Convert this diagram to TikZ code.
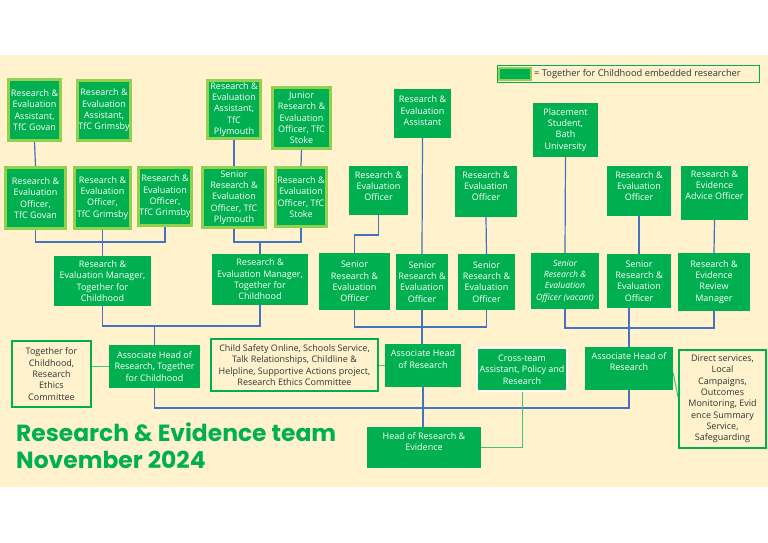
\documentclass[tikz,border=0pt]{standalone}
\usepackage{fontspec}
\setmainfont{Open Sans}
\newfontfamily\titlefont{Poppins}
\usetikzlibrary{backgrounds}
\definecolor{tgreen}{HTML}{00B050}
\definecolor{lgreen}{HTML}{92D050}
\definecolor{cream}{HTML}{FFF2CC}
\definecolor{lblue}{HTML}{4472C4}
\definecolor{dtext}{HTML}{333333}
\tikzset{
  sz/.style 2 args={minimum width=#1,minimum height=#2},
  td/.style 2 args={text height=#1, text depth=#2},
  gbox/.style={fill=tgreen, text=white, align=center, inner sep=1pt,
    font=\fontsize{9}{11.3}\selectfont},
  tfc/.style={gbox, draw=lgreen, line width=3pt},
  wbox/.style={fill=cream, draw=tgreen, line width=2pt, text=dtext, align=center,
    inner sep=1pt, font=\fontsize{9}{11.3}\selectfont},
  xbox/.style={gbox, draw=white, line width=2pt},
  link/.style={draw=lblue, line width=1.2pt},
  glink/.style={draw=tgreen!75!white, line width=1pt},
}
\begin{document}
\begin{tikzpicture}[x=1pt,y=-1pt]
\useasboundingbox (0,0) rectangle (768,543);
% row 1
\node[tfc, sz={52}{61}] (a1) at (34.5,110) {Research \&\\Evaluation\\Assistant,\\TfC Govan};
\node[tfc, sz={51}{60}] (a2) at (104,110.5) {Research \&\\Evaluation\\Assistant,\\TfC Grimsby};
\node[tfc, sz={53}{58}] (a3) at (234,109.5) {Research \&\\Evaluation\\Assistant,\\TfC\\Plymouth};
\node[tfc, sz={58}{61}] (a4) at (301.5,118) {Junior\\Research \&\\Evaluation\\Officer, TfC\\Stoke};
\node[gbox, sz={57}{49}, td={35.3pt}{11.7pt}] (a5) at (422.5,113.5) {Research \&\\Evaluation\\Assistant};
\node[gbox, sz={65}{54}] (a6) at (565.5,130) {Placement\\Student,\\Bath\\University};
% legend
\node[draw=tgreen, line width=1.5pt, fill=cream, sz={262}{17}] (leg) at (628.5,74) {};
\node[gbox, draw=lgreen, line width=2pt, sz={32}{12}] (sw) at (515,74) {};
\node[anchor=west, text=dtext, inner sep=0pt, font=\fontsize{9.3}{10}\selectfont] (legt) at (534,74) {= Together for Childhood embedded researcher};
% row 2
\node[tfc, sz={60}{61}] (b1) at (35.5,198) {Research \&\\Evaluation\\Officer,\\TfC Govan};
\node[tfc, sz={56}{61}] (b2) at (102.5,198) {Research \&\\Evaluation\\Officer,\\TfC Grimsby};
\node[tfc, sz={53}{58}] (b3) at (165,196.5) {Research \&\\Evaluation\\Officer,\\TfC Grimsby};
\node[tfc, sz={63}{60}] (b4) at (234,197.5) {Senior\\Research \&\\Evaluation\\Officer, TfC\\Plymouth};
\node[tfc, sz={51}{59}] (b5) at (301,197) {Research \&\\Evaluation\\Officer, TfC\\Stoke};
\node[gbox, sz={59}{49}, td={33.6pt}{13.4pt}] (b6) at (378.5,190.5) {Research \&\\Evaluation\\Officer};
\node[gbox, sz={62}{51}, td={33.6pt}{15.4pt}] (b7) at (486,191.5) {Research \&\\Evaluation\\Officer};
\node[gbox, sz={64}{50}, td={33.6pt}{14.4pt}] (b8) at (639,191) {Research \&\\Evaluation\\Officer};
\node[gbox, sz={67}{54}, td={32.6pt}{19.4pt}] (b9) at (714.5,193) {Research \&\\Evidence\\Advice Officer};
% row 3
\node[gbox, sz={97}{50}] (c1) at (102.5,281) {Research \&\\Evaluation Manager,\\Together for\\Childhood};
\node[gbox, sz={96}{51}] (c2) at (260,279.5) {Research \&\\Evaluation Manager,\\Together for\\Childhood};
\node[gbox, sz={71}{57}] (c3) at (354.5,281.5) {Senior\\Research \&\\Evaluation\\Officer};
\node[gbox, sz={52}{56}] (c4) at (422,282) {Senior\\Research \&\\Evaluation\\Officer};
\node[gbox, sz={57}{56}] (c5) at (486.5,282) {Senior\\Research \&\\Evaluation\\Officer};
\node[gbox, sz={68}{56}, font=\fontsize{8.6}{11.3}\selectfont\itshape] (c6) at (565,281) {Senior\\Research \&\\Evaluation\\Officer (vacant)};
\node[gbox, sz={64}{54}] (c7) at (639,281) {Senior\\Research \&\\Evaluation\\Officer};
\node[gbox, sz={72}{58}] (c8) at (714,282) {Research \&\\Evidence\\Review\\Manager};
% row 4
\node[wbox, sz={79}{66}] (d1) at (51.5,374) {Together for\\Childhood,\\Research\\Ethics\\Committee};
\node[gbox, sz={91}{43}] (d2) at (154.5,366.5) {Associate Head of\\Research, Together\\for Childhood};
\node[wbox, sz={167}{52}] (d3) at (294.5,365) {Child Safety Online, Schools Service,\\Talk Relationships, Childline \&\\Helpline, Supportive Actions project,\\Research Ethics Committee};
\node[gbox, sz={76}{43}, td={23pt}{18pt}] (d4) at (423,365.5) {Associate Head\\of Research};
\node[xbox, sz={90}{43}] (d5) at (522,369.5) {Cross-team\\Assistant, Policy and\\Research};
\node[gbox, sz={88}{43}, td={22.3pt}{18.7pt}] (d6) at (629,368.5) {Associate Head of\\Research};
\node[wbox, sz={87}{98}] (d7) at (722.5,399) {Direct services,\\Local\\Campaigns,\\Outcomes\\Monitoring, Evid\\ence Summary\\Service,\\Safeguarding};
% row 5
\node[gbox, sz={114}{41}, td={22.3pt}{16.7pt}] (e1) at (424,447.5) {Head of Research \&\\Evidence};
\node[anchor=north west, align=left, inner sep=0pt, text=tgreen,
  font=\titlefont\bfseries\fontsize{23.4}{27}\selectfont] (title) at (16,422.5) {Research \& Evidence team\\November 2024};
% background and connectors
\begin{scope}[on background layer]
\fill[cream] (0,55.5) rectangle (768,487);
\coordinate (y242) at (0,242);
\coordinate (y235) at (0,235);
\coordinate (y326) at (0,326);
\coordinate (y327) at (0,327);
\coordinate (y328) at (0,328);
\coordinate (y408) at (0,408);
\draw[link] (a1.south) -- (b1.north);
\draw[link] (b1.south) |- (b3.south |- y242) -- (b3.south);
\draw[link] (b2.south) -- (c1.north);
\draw[link] (a3.south) -- (b4.north);
\draw[link] (a4.south) -- (b5.north);
\draw[link] (b4.south) |- (b5.south |- y242) -- (b5.south);
\draw[link] (c2.north) -- (c2.north |- y242);
\draw[link] (b6.south) |- (c3.north |- y235) -- (c3.north);
\draw[link] (a5.south) -- (c4.north);
\draw[link] (b7.south) -- (c5.north);
\draw[link] (c3.south) |- (c5.south |- y327) -- (c5.south);
\draw[link] (c4.south) -- (c4.south |- d4.north);
\draw[link] (a6.south) -- (c6.north);
\draw[link] (b8.south) -- (c7.north);
\draw[link] (b9.south) -- (c8.north);
\draw[link] (c6.south) |- (c8.south |- y328) -- (c8.south);
\draw[link] (d6.north) -- (d6.north |- c7.south);
\draw[link] (c1.south) |- (c2.south |- y326) -- (c2.south);
\draw[link] (d2.north) -- (d2.north |- y326);
\draw[link] (d2.south) |- (d6.south |- y408) -- (d6.south);
\draw[link] (d4.south) -- (d4.south |- e1.north);
\draw[glink] (d2.west) -- (d2.west -| d1.east);
\draw[glink] (d4.west) -- (d4.west -| d3.east);
\draw[glink] (d5.south) |- (e1.east);
\draw[glink] ([yshift=-4.5pt]d6.east) -- ([yshift=2pt]d7.west);
\end{scope}
\end{tikzpicture}
\end{document}
